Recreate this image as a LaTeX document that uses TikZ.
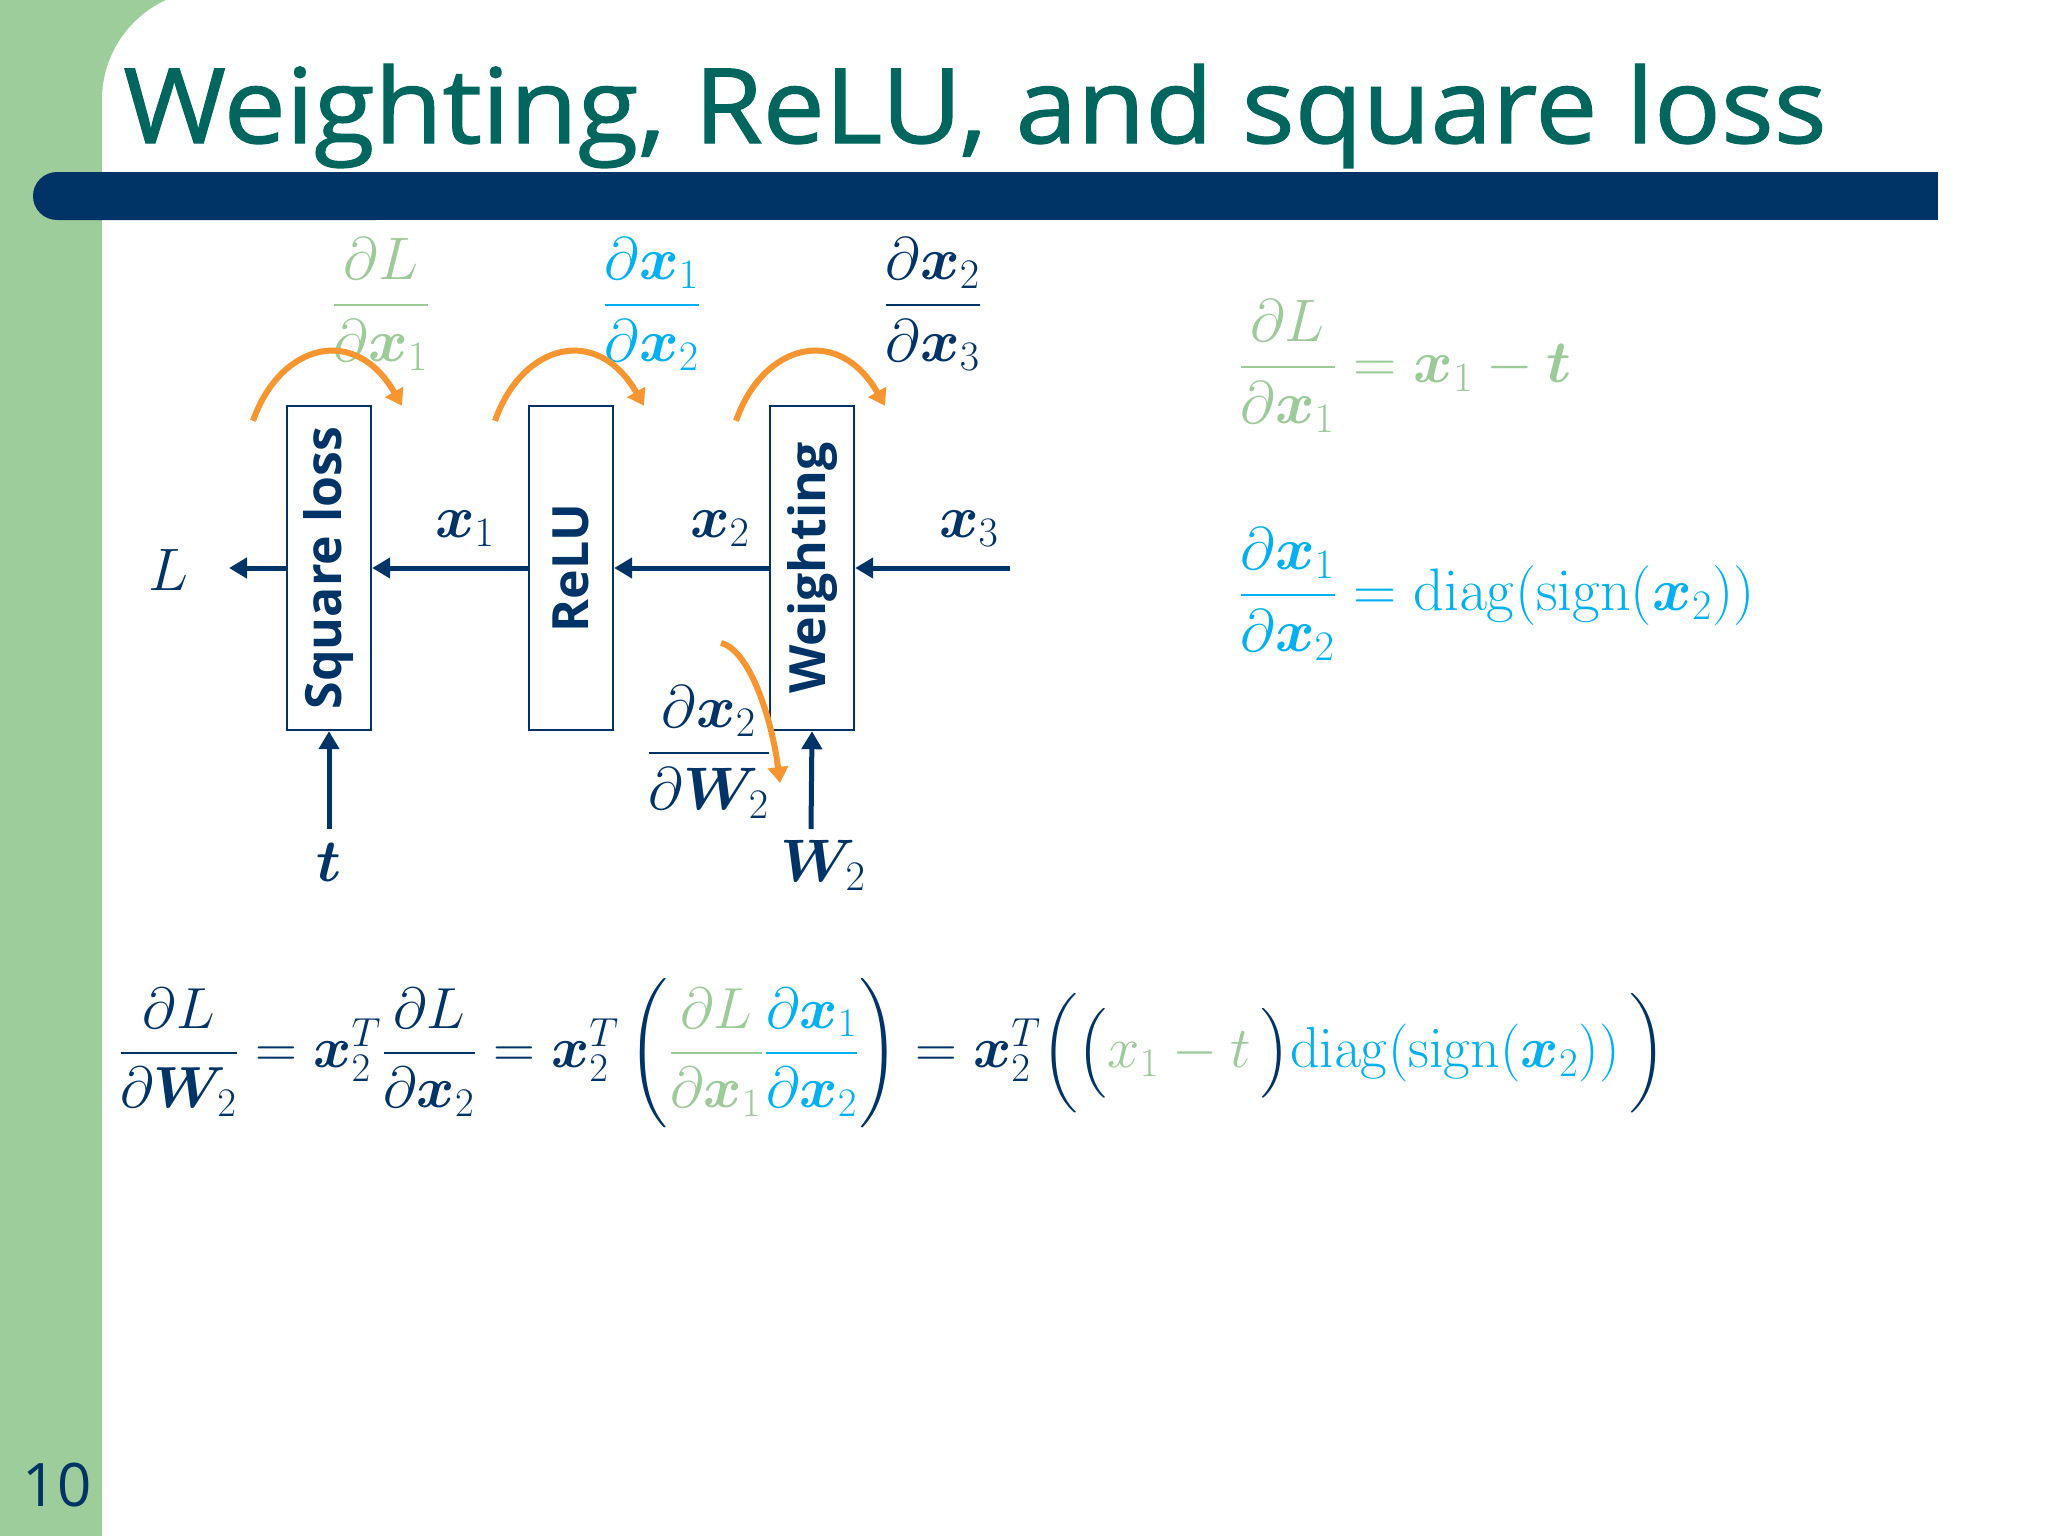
\RequirePackage{fix-cm}
\documentclass[tikz,border=0pt]{standalone}
\usepackage{amsmath,bm}
\usepackage[no-math]{fontspec}
\setmainfont{Open Sans}
\newfontfamily\titlefont[FakeBold=1.2, FakeStretch=1.065]{Open Sans}
\usetikzlibrary{arrows.meta}
\definecolor{navy}{RGB}{0,51,102}
\definecolor{greenc}{RGB}{156,202,152}
\definecolor{stripgreen}{RGB}{157,205,155}
\definecolor{cyanc}{RGB}{0,176,240}
\definecolor{orangec}{RGB}{247,150,48}
\definecolor{tealc}{RGB}{0,102,94}
\tikzset{
  box/.style={draw=navy, line width=1.2pt, minimum width=42pt, minimum height=162pt, inner sep=0pt},
  boxlabel/.style={rotate=90, text=navy, inner sep=0pt, font=\fontsize{25}{29}\selectfont\bfseries},
  flow/.style={draw=navy, line width=2.5pt, -{Triangle[length=9pt,width=10pt]}},
  grad/.style={draw=orangec, line width=3pt, -{Triangle[length=8pt,width=10pt]}},
  mathlbl/.style={text=navy, inner sep=0pt, font=\fontsize{30}{36}\selectfont},
}
\begin{document}
\begin{tikzpicture}[x=0.5pt,y=-0.5pt]
\fill[white] (0,0) rectangle (2048,1536);
\useasboundingbox (0,0) rectangle (2048,1536);
% side strip and page corner
\fill[stripgreen] (0,0) rectangle (102,1536);
\fill[stripgreen] (102,0) rectangle (300,300);
\fill[white, rounded corners=55pt] (102,-10) rectangle (2200,1900);
% title bar
\fill[navy, rounded corners=12pt] (33,172) rectangle (400,220);
\fill[navy] (200,172) rectangle (1938,220);
\node[anchor=base west, inner sep=0pt, text=tealc, font=\titlefont\fontsize{52}{60}\selectfont] (title) at (123,143) {Weighting, ReLU, and square loss};
\node[text=navy, inner sep=0pt, font=\fontsize{30}{36}\selectfont] (pg) at (57,1485) {10};

% boxes
\node[box] (sq) at (329,568) {};
\node[box] (relu) at (571,568) {};
\node[box] (wt) at (812,568) {};
\node[boxlabel] (sqlabel) at (sq.center) {Square loss};
\node[boxlabel] (relulabel) at (relu.center) {ReLU};
\node[boxlabel] (wtlabel) at (wt.center) {Weighting};

% signal labels
\node[mathlbl] (L) at (168,570) {$L$};
\node[mathlbl] (x1) at (465,529) {$\bm{x}_1$};
\node[mathlbl] (x2) at (720,529) {$\bm{x}_2$};
\node[mathlbl] (x3) at (969,529) {$\bm{x}_3$};
\node[mathlbl] (t) at (329,862) {$\bm{t}$};
\node[mathlbl] (W2) at (823,865) {$\bm{W}_2$};

% flows
\coordinate (x3in) at (1010,568);
\coordinate (Lend) at (229,568);
\coordinate (tstart) at (329,829);
\coordinate (wstart) at (811,829);
\draw[flow] (x3in) -- (wt.east);
\draw[flow] (wt.west) -- (relu.east);
\draw[flow] (relu.west) -- (sq.east);
\draw[flow] (sq.west) -- (Lend);
\draw[flow] (tstart) -- (sq.south);
\draw[flow] (wstart) -- (wt.south);

% local gradient labels
\node[mathlbl, text=greenc] (gsq) at (381,304) {$\dfrac{\partial L}{\partial \bm{x}_1}$};
\node[mathlbl, text=cyanc] (grelu) at (652,304) {$\dfrac{\partial \bm{x}_1}{\partial \bm{x}_2}$};
\node[mathlbl] (gwt) at (933,304) {$\dfrac{\partial \bm{x}_2}{\partial \bm{x}_3}$};
\node[mathlbl] (gw) at (709,752) {$\dfrac{\partial \bm{x}_2}{\partial \bm{W}_2}$};

% orange gradient arcs
\foreach \b in {sq,relu,wt}{
  \draw[grad] ([shift={(-76,16)}]\b.north) .. controls ([shift={(-49,-61)}]\b.north) and ([shift={(26,-81)}]\b.north) .. ([shift={(73,1)}]\b.north);
}
\coordinate (gws) at (721,643);
\coordinate (gwe) at (780,783);
\draw[grad] (gws) .. controls (750,650) and (772,720) .. (gwe);

% right equations
\node[mathlbl, text=greenc, anchor=west] (eq1) at (1238,366) {$\dfrac{\partial L}{\partial \bm{x}_1} = \bm{x}_1 - \bm{t}$};
\node[mathlbl, text=cyanc, anchor=west] (eq2) at (1238,594) {$\dfrac{\partial \bm{x}_1}{\partial \bm{x}_2} = \mathrm{diag}(\mathrm{sign}(\bm{x}_2))$};

% bottom equation
\node[mathlbl, anchor=west, font=\fontsize{29}{35}\selectfont] (eq3) at (118,1053) {$\dfrac{\partial L}{\partial \bm{W}_2} = \bm{x}_2^T \dfrac{\partial L}{\partial \bm{x}_2} = \bm{x}_2^T \left( {\color{greenc}\dfrac{\partial L}{\partial \bm{x}_1}} {\color{cyanc}\dfrac{\partial \bm{x}_1}{\partial \bm{x}_2}} \right) = \bm{x}_2^T \Bigl( \bigl( {\color{greenc} x_1 - t\,} \bigr) {\color{cyanc}\mathrm{diag}(\mathrm{sign}(\bm{x}_2))}\, \Bigr)$};
\end{tikzpicture}
\end{document}
